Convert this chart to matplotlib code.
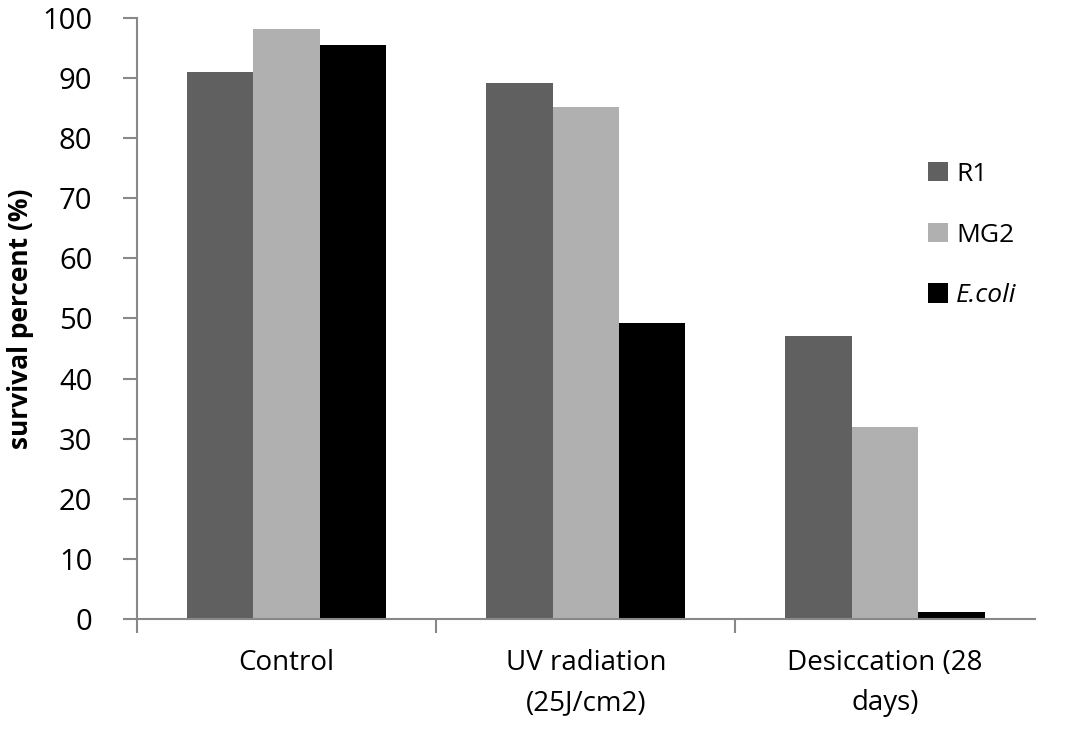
import numpy as np
from matplotlib import pyplot as plt

# data
categories = ["Control", "UV radiation\n(25J/cm2)", "Desiccation (28\ndays)"]
r1 = [91, 89.2, 47.1]
mg2 = [98.1, 85.2, 31.9]
ecoli = [95.5, 49.3, 1.2]
series_names = ["R1", "MG2", "E.coli"]
yticks = list(range(0, 101, 10))

colors = ["#606060", "#b0b0b0", "#000000"]

plt.rcParams["font.family"] = ["Open Sans", "DejaVu Sans"]

fig = plt.figure(figsize=(10.69, 7.35), dpi=100)
ax = fig.add_axes([0.128, 0.158, 0.84, 0.8175])

x = np.arange(len(categories))
w = 0.222
for i, (vals, name) in enumerate(zip([r1, mg2, ecoli], series_names)):
    ax.bar(x + (i - 1) * w, vals, width=w, color=colors[i], label=name)

ax.set_xlim(-0.5, 2.5)
ax.set_ylim(0, 100)
ax.set_yticks(yticks)
ax.set_yticklabels([str(t) for t in yticks], fontsize=21)

# category ticks sit between groups, labels centered under groups
ax.set_xticks([-0.5, 0.5, 1.5])
ax.set_xticklabels([])
ax.set_xticks(x, minor=True)
ax.set_xticklabels(categories, minor=True, fontsize=20, linespacing=1.55)
ax.tick_params(axis="x", which="major", length=10, color="#888888", width=1.5)
ax.tick_params(axis="x", which="minor", length=0, pad=22)
ax.tick_params(axis="y", length=10, color="#888888", width=1.5, pad=22)

for s in ["top", "right"]:
    ax.spines[s].set_visible(False)
for s in ["left", "bottom"]:
    ax.spines[s].set_color("#888888")
    ax.spines[s].set_linewidth(1.5)

ax.set_ylabel("survival percent (%)", fontsize=19, fontweight="bold", labelpad=6)

leg = ax.legend(loc="upper left", bbox_to_anchor=(0.855, 0.80), frameon=False,
                fontsize=19, labelspacing=1.35, handlelength=0.75, handleheight=0.75,
                handletextpad=0.3)
leg.get_texts()[2].set_fontstyle("italic")

plt.savefig("out.png", dpi=100)
